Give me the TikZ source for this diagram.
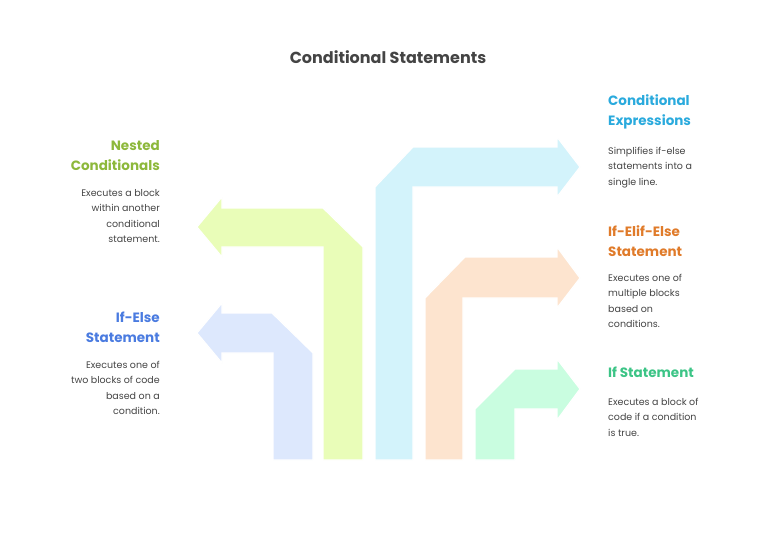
\documentclass[tikz,border=0pt]{standalone}
\usepackage{fontspec}
\setmainfont{Poppins}
\usetikzlibrary{positioning}
\definecolor{cBlue}{HTML}{DDE8FD}\definecolor{tBlue}{HTML}{4A7BE0}
\definecolor{cGreen}{HTML}{E9FDB8}\definecolor{tGreen}{HTML}{8DB83B}
\definecolor{cCyan}{HTML}{D3F3FB}\definecolor{tCyan}{HTML}{2AAADD}
\definecolor{cOrange}{HTML}{FDE4CF}\definecolor{tOrange}{HTML}{E07B2A}
\definecolor{cMint}{HTML}{C9FDE0}\definecolor{tMint}{HTML}{3CC486}
\definecolor{tGray}{HTML}{444444}
\begin{document}
\begin{tikzpicture}[x=1pt,y=-1pt,
  band/.style={draw=white,line width=1.2pt,line join=miter},
  head/.style={font=\bfseries\fontsize{13.5}{20}\selectfont,inner sep=0pt},
  headL/.style={head,anchor=north east,align=right},
  headR/.style={head,anchor=north west,align=left},
  body/.style={font=\fontsize{9.5}{15.5}\selectfont,text=tGray,inner sep=0pt},
  bodyL/.style={body,anchor=north east,align=right},
  bodyR/.style={body,anchor=north west,align=left}]
\useasboundingbox (0,0) rectangle (768,551);

% arrows
\fill[cBlue,band] (273,460)--(273,353)--(222,353)--(222,363)--(197,333)--(222,303)--(222,313)--(272,313)--(313,353)--(313,460)--cycle;
\fill[cGreen,band] (323,460)--(323,247)--(222,247)--(222,257)--(197,227)--(222,197)--(222,208)--(323,208)--(363,247)--(363,460)--cycle;
\fill[cCyan,band] (375,460)--(375,187)--(413,147)--(557,147)--(557,137)--(580,167)--(557,197)--(557,187)--(413,187)--(413,460)--cycle;
\fill[cOrange,band] (425,460)--(425,298)--(465,257)--(557,257)--(557,247)--(580,278)--(557,308)--(557,298)--(463,298)--(463,460)--cycle;
\fill[cMint,band] (475,460)--(475,409)--(515,369)--(557,369)--(557,359)--(580,389)--(557,420)--(557,409)--(515,409)--(515,460)--cycle;

% title
\node[font=\bfseries\fontsize{16}{19}\selectfont,text=tGray] (title) at (388,57) {Conditional Statements};

% left texts
\node[headL,text=tGreen] (nestH) at (160,140) {Nested\\Conditionals};
\node[bodyL] (nestB) at (160,189) {Executes a block\\within another\\conditional\\statement.};
\node[headL,text=tBlue] (elseH) at (160,312) {If-Else\\Statement};
\node[bodyL] (elseB) at (160,361) {Executes one of\\two blocks of code\\based on a\\condition.};

% right texts
\node[headR,text=tCyan] (exprH) at (608,94) {Conditional\\Expressions};
\node[bodyR] (exprB) at (608,147) {Simplifies if-else\\statements into a\\single line.};
\node[headR,text=tOrange] (elifH) at (608,225) {If-Elif-Else\\Statement};
\node[bodyR] (elifB) at (608,274) {Executes one of\\multiple blocks\\based on\\conditions.};
\node[headR,text=tMint] (ifH) at (608,367) {If Statement};
\node[bodyR] (ifB) at (608,398) {Executes a block of\\code if a condition\\is true.};
\end{tikzpicture}
\end{document}
